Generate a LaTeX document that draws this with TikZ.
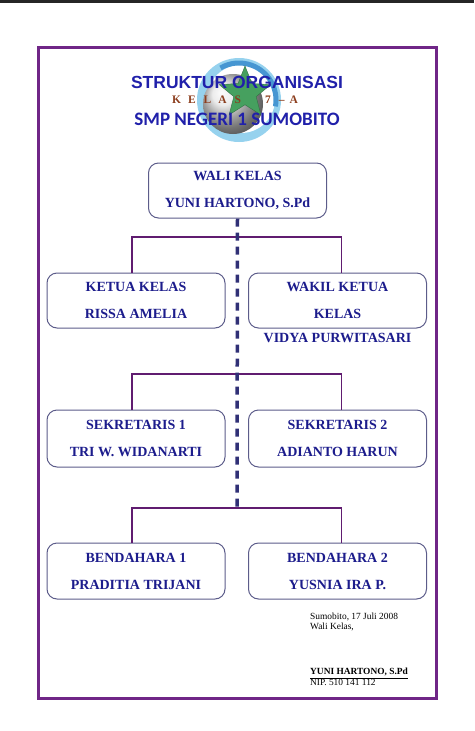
\documentclass[tikz,border=0pt]{standalone}
\usepackage{fontspec}
\setmainfont{Liberation Serif}
\newfontfamily\titlefont{Liberation Sans}
\newfontfamily\schoolfont{Carlito}
\usetikzlibrary{positioning,shapes.geometric}
\definecolor{framepurple}{RGB}{112,38,135}
\definecolor{linepurple}{RGB}{96,28,112}
\definecolor{dashnavy}{RGB}{48,48,118}
\definecolor{boxedge}{RGB}{92,92,138}
\definecolor{namenavy}{RGB}{28,28,140}
\definecolor{titleblue}{RGB}{32,32,170}
\definecolor{kelasbrown}{RGB}{140,62,30}
\definecolor{ringblue}{RGB}{150,210,238}
\definecolor{ringdeep}{RGB}{70,150,210}
\definecolor{stargreen}{RGB}{70,160,95}
\tikzset{
  orgbox/.style={draw=boxedge, line width=1pt, rounded corners=10pt, fill=white, minimum width=178pt, minimum height=55pt, inner sep=0pt, align=center, text=namenavy, font=\fontsize{14}{27}\selectfont\bfseries},
  orgname/.style={text=namenavy, inner sep=0pt, font=\fontsize{14}{27}\selectfont\bfseries},
  orgline/.style={draw=linepurple, line width=1.6pt},
  dashline/.style={draw=dashnavy, line width=3.5pt, dash pattern=on 8pt off 6pt},
  signtext/.style={anchor=west, inner sep=0pt, align=left, font=\fontsize{9.4}{10.5}\selectfont}
}

\begin{document}
\begin{tikzpicture}[x=1pt, y=-1pt]
  \useasboundingbox (0,0) rectangle (474,731);
  \fill[black!85] (0,0) rectangle (474,3);
  \draw[framepurple, line width=3pt] (38,47) rectangle (436,698);

  \fill[ringblue] (239,100) circle (42);
  \fill[white] (241,99) circle (34);
  \draw[ringdeep, line width=5pt] ([shift={(-120:37)}]239,100) arc (-120:10:37);
  \shade[ball color=gray!20] (233,104) circle (30);
  \node[star, star points=5, star point ratio=2.3, fill=stargreen, draw=stargreen!70!black, minimum size=54pt, inner sep=0pt] (logostar) at (245,93) {};

  \node[font=\titlefont\bfseries\fontsize{17.5}{18}\selectfont, text=titleblue] (title) at (237,82) {STRUKTUR ORGANISASI};
  \node[font=\bfseries\fontsize{11.5}{12}\selectfont, text=kelasbrown] (kelas) at (235,100) {K\hskip7pt E\hskip8pt L\hskip7pt A\hskip8pt S\hskip24pt 7\hskip8pt --\hskip5pt A};
  \node[font=\schoolfont\bfseries\fontsize{19}{20}\selectfont, text=titleblue] (school) at (237,119) {SMP NEGERI 1 SUMOBITO};

  \node[orgbox] (wali) at (237.5,190.5) {WALI KELAS\\YUNI HARTONO, S.Pd};
  \node[orgbox] (ketua) at (136,300.5) {KETUA KELAS\\RISSA AMELIA};
  \node[orgbox, label={[orgname, yshift=-5pt]below:VIDYA PURWITASARI}] (wakil) at (337.5,300.5) {WAKIL KETUA\\KELAS};
  \node[orgbox, minimum height=57pt] (sek1) at (136,438.5) {SEKRETARIS 1\\TRI W. WIDANARTI};
  \node[orgbox, minimum height=57pt] (sek2) at (337.5,438.5) {SEKRETARIS 2\\ADIANTO HARUN};
  \node[orgbox, minimum height=56pt] (bend1) at (136,571) {BENDAHARA 1\\PRADITIA TRIJANI};
  \node[orgbox, minimum height=56pt] (bend2) at (337.5,571) {BENDAHARA 2\\YUSNIA IRA P.};

  \coordinate (tier1) at (237,237);
  \coordinate (tier2) at (237,374);
  \coordinate (tier3) at (237,508);
  \draw[orgline] ([xshift=-4pt]ketua.north) |- (tier1) -| ([xshift=4pt]wakil.north);
  \draw[orgline] ([xshift=-4pt]sek1.north) |- (tier2) -| ([xshift=4pt]sek2.north);
  \draw[orgline] ([xshift=-4pt]bend1.north) |- (tier3) -| ([xshift=4pt]bend2.north);
  \draw[dashline] (wali.south) -- (tier3);

  \node[signtext] (place) at (310,622) {Sumobito, 17 Juli 2008\\Wali Kelas,};
  \node[signtext] (signer) at (310,677) {\textbf{\underline{YUNI HARTONO, S.Pd}}\\NIP. 510 141 112};
\end{tikzpicture}
\end{document}
